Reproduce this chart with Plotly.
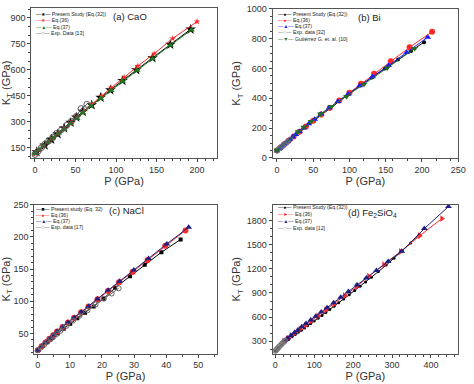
import plotly.graph_objects as go

# ---------------- (a) CaO ----------------
a_ps_P = [2, 12, 20, 28, 36, 44, 51, 59, 70, 81, 93, 108, 125, 145, 167, 192]
a_ps_K = [125, 163, 196, 228, 262, 295, 325, 358, 396, 439, 483, 537, 599, 669, 746, 834]
a_36_P = [0, 5, 10, 16, 22, 29, 36, 44, 52, 60, 70, 82, 94, 110, 127, 147, 170, 200]
a_36_K = [115, 137, 158, 182, 205, 232, 260, 292, 325, 357, 400, 449, 496, 556, 622, 693, 781, 879]
a_37_P = [0, 5, 10, 16, 22, 29, 36, 44, 52, 59, 69, 81, 94, 108, 126, 145, 167, 193]
a_37_K = [115, 137, 158, 182, 205, 232, 258, 288, 318, 350, 390, 434, 480, 533, 597, 664, 742, 830]
a_ex_P = [0, 4, 8, 12, 17, 22, 27, 33, 39, 45, 51, 57, 64]
a_ex_K = [110, 130, 150, 168, 190, 210, 232, 255, 278, 302, 330, 375, 400]

# ---------------- (b) Bi ----------------
b_ps_P = [0, 5, 10, 16, 23, 31, 40, 50, 61, 73, 86, 100, 115, 131, 149, 167, 185, 203]
b_ps_K = [50, 70, 91, 115, 143, 174, 208, 246, 287, 332, 380, 432, 486, 540, 600, 660, 718, 777]
b_36_P = [0, 5, 10, 16, 23, 31, 40, 50, 61, 73, 86, 100, 116, 134, 157, 183, 214]
b_36_K = [50, 70, 91, 115, 143, 175, 210, 249, 291, 337, 386, 438, 498, 565, 648, 742, 847]
b_37_P = [0, 2, 4, 6, 8, 10, 12, 15, 18, 22, 26, 31, 37, 44, 52, 61, 72, 84, 98, 114, 132, 154, 179, 208]
b_37_K = [48, 57, 65, 73, 82, 91, 99, 112, 124, 141, 157, 177, 201, 229, 260, 294, 335, 378, 428, 484, 545, 620, 707, 810]
b_ex_P = [0, 3, 6, 9, 12, 15, 18]
b_ex_K = [50, 63, 75, 87, 99, 111, 123]
b_gu_P = [0, 29, 37, 47, 60, 75, 96, 120, 152, 190]
b_gu_K = [52, 175, 206, 245, 295, 345, 412, 494, 603, 735]

# ---------------- (c) NaCl ----------------
c_ps_P = [0, 1.5, 3, 4.6, 6.3, 8.1, 10.1, 12.3, 14.7, 17.4, 20.5, 24.1, 28.7, 33.3, 38.5, 44.5]
c_ps_K = [24, 30.5, 37, 43.5, 50.5, 57.5, 65, 73.5, 82, 92, 104, 121, 139, 156.5, 176, 196]
c_36_P = [0, 1.2, 2.4, 3.6, 4.8, 6, 7.7, 9.4, 11.3, 13.5, 15.8, 18.6, 21.9, 25.3, 29.5, 34.2, 39.7, 46]
c_36_K = [24, 30, 35.8, 41.6, 47.4, 53, 60, 67, 74.5, 83, 92, 103, 116, 129.5, 145.5, 164, 186, 210]
c_37_P = [0, 1.2, 2.4, 3.6, 4.8, 6, 7.7, 9.4, 11.3, 13.5, 15.8, 18.6, 21.9, 25.5, 29.9, 34.5, 40.2, 47]
c_37_K = [24, 30, 35.8, 41.6, 47.4, 53, 60, 67, 74.5, 83, 92, 103.5, 117, 131, 148.5, 166.5, 189, 215]
c_ex_P = [0, 1, 2, 3, 4, 5, 6, 7, 8, 9, 11, 13, 15.5, 18, 20.6, 23, 25.2]
c_ex_K = [24, 28, 32.5, 37, 41, 45.5, 49.5, 54, 58, 62, 70, 77.5, 86, 95, 104, 112, 120]

# ---------------- (d) Fe2SiO4 ----------------
d_ps_P = [0, 8, 17, 26, 34, 43, 51, 59, 67, 75, 83, 91, 100, 110, 120, 130, 140, 151, 163, 176,
          190, 204, 218, 232, 247, 265, 285, 305, 326, 348, 370]
d_ps_K = [180, 220, 258, 293, 323, 355, 383, 411, 438, 465, 492, 520, 551, 586, 621, 657, 694, 734, 778, 826,
          878, 930, 983, 1037, 1096, 1166, 1246, 1330, 1420, 1520, 1630]
d_36_P = [22, 31, 41, 52, 64, 78, 93, 110, 130, 151, 178, 209, 240, 279, 322, 371, 428]
d_36_K = [300, 333, 368, 407, 450, 500, 554, 615, 688, 764, 865, 978, 1107, 1252, 1416, 1610, 1824]
d_37_P = [25, 32, 40, 49, 58, 68, 79, 91, 104, 118, 133, 150, 168, 188, 210, 234, 260, 290, 325, 383, 445]
d_37_K = [312, 340, 372, 407, 441, 479, 520, 564, 612, 663, 718, 780, 846, 918, 998, 1085, 1180, 1290, 1418, 1700, 1973]
d_ex_P = [0, 2, 4, 6, 8, 10, 13, 16, 19, 22, 25]
d_ex_K = [178, 190, 201, 212, 223, 234, 249, 264, 279, 293, 306]

panels = [
    dict(key="a", title="(a) CaO", series=[
        ("Present Study (Eq.(32))", a_ps_P, a_ps_K, "#000000", "star", 8, "#000000"),
        ("Eq.(36)", a_36_P, a_36_K, "#ff2a2a", "star", 5, "#ff2a2a"),
        ("Eq.(37)", a_37_P, a_37_K, "#1f7a1f", "triangle-up", 6, "#1f7a1f"),
        ("Exp. Data [13]", a_ex_P, a_ex_K, "#555555", "circle-open", 6, "#555555"),
    ]),
    dict(key="b", title="(b) Bi", series=[
        ("Present Study (Eq.(32))", b_ps_P, b_ps_K, "#000000", "circle", 4, "#000000"),
        ("Eq.(36)", b_36_P, b_36_K, "#ff2a2a", "circle", 6, "#ff2a2a"),
        ("Eq.(37)", b_37_P, b_37_K, "#1a1aff", "triangle-up", 6, "#1a1aff"),
        ("Exp. data [32]", b_ex_P, b_ex_K, "#777777", "circle-open", 5, "#777777"),
        ("Gutiérrez G. et. al. [10]", b_gu_P, b_gu_K, "#1f6e1f", "triangle-down", 6, "#1f6e1f"),
    ]),
    dict(key="c", title="(c) NaCl", series=[
        ("Present study (Eq. 32)", c_ps_P, c_ps_K, "#000000", "square", 4, "#000000"),
        ("Eq.(36)", c_36_P, c_36_K, "#ff2a2a", "circle", 6, "#ff2a2a"),
        ("Eq.(37)", c_37_P, c_37_K, "#1f1f80", "triangle-up", 6, "#1f1f80"),
        ("Exp. data [17]", c_ex_P, c_ex_K, "#666666", "circle-open", 5, "#666666"),
    ]),
    dict(key="d", title="(d) Fe<sub>2</sub>SiO<sub>4</sub>", series=[
        ("Present Study (Eq.(32))", d_ps_P, d_ps_K, "#000000", "circle", 3, "#000000"),
        ("Eq.(36)", d_36_P, d_36_K, "#ff2a2a", "triangle-right", 6, "#ff2a2a"),
        ("Eq.(37)", d_37_P, d_37_K, "#1f1f80", "triangle-up", 6, "#1f1f80"),
        ("Exp. data [12]", d_ex_P, d_ex_K, "#777777", "circle-open", 5, "#777777"),
    ]),
]

legend_glyph = {"star": "★", "circle": "●", "square": "■", "triangle-up": "▲",
                "triangle-down": "▼", "triangle-right": "►", "circle-open": "○"}

W, H = 474, 384
# plot-area boxes in pixels: (left, right, top, bottom)
boxes = {"a": (29, 219, 3, 157), "b": (276, 466, 4, 157),
         "c": (32, 219, 205, 358), "d": (276, 466, 205, 358)}
xranges = {"a": [-4.5, 224.5], "b": [-6, 250], "c": [-1.1, 55.8], "d": [-7, 470]}
yranges = {"a": [90, 958], "b": [0, 1000], "c": [18.6, 250], "d": [146, 1997]}
xticks = {"a": [0, 50, 100, 150, 200], "b": [0, 50, 100, 150, 200, 250],
          "c": [0, 10, 20, 30, 40, 50], "d": [0, 100, 200, 300, 400]}
yticks = {"a": [150, 300, 450, 600, 750, 900], "b": [0, 200, 400, 600, 800, 1000],
          "c": [50, 100, 150, 200, 250], "d": [300, 600, 900, 1200, 1500, 1800]}
title_pos = {"a": (130, 12), "b": (375, 13), "c": (126, 211), "d": (378, 214)}
legend_pos = {"a": (32, 9, 6.6), "b": (279, 9, 6.4), "c": (32, 209, 6.3), "d": (279, 207, 7.3)}

fig = go.Figure()
layout = dict(width=W, height=H, margin=dict(l=0, r=0, t=0, b=0),
              paper_bgcolor="white", plot_bgcolor="white", showlegend=False,
              font=dict(family="Liberation Sans, Arial", color="#333333"))
annotations = []

for i, p in enumerate(panels):
    k = p["key"]
    n = "" if i == 0 else str(i + 1)
    l, r, t, b = boxes[k]
    xa = dict(domain=[l / W, r / W], range=xranges[k], anchor="y" + n,
              tickvals=xticks[k], ticks="outside", ticklen=3, tickwidth=1, tickcolor="#444",
              minor=dict(ticks="outside", ticklen=2, tickcolor="#444"),
              showline=True, linecolor="#555", linewidth=1, mirror=True, showgrid=False, zeroline=False,
              tickfont=dict(size=9, color="#333"),
              title=dict(text="P (GPa)", font=dict(size=11, color="#333"), standoff=2))
    ya = dict(domain=[1 - b / H, 1 - t / H], range=yranges[k], anchor="x" + n,
              tickvals=yticks[k], ticks="outside", ticklen=3, tickwidth=1, tickcolor="#444",
              minor=dict(ticks="outside", ticklen=2, tickcolor="#444"),
              showline=True, linecolor="#555", linewidth=1, mirror=True, showgrid=False, zeroline=False,
              tickfont=dict(size=9, color="#333"),
              title=dict(text="K<sub>T</sub> (GPa)", font=dict(size=11, color="#333"), standoff=3))
    layout["xaxis" + n] = xa
    layout["yaxis" + n] = ya
    for (name, P, K, col, sym, size, lcol) in p["series"]:
        fig.add_trace(go.Scatter(x=P, y=K, mode="lines+markers", name=name,
                                 xaxis="x" + n, yaxis="y" + n,
                                 line=dict(color=lcol, width=1),
                                 marker=dict(symbol=sym, size=size, color=col,
                                             line=dict(width=1 if "open" in sym else 0, color=col))))
    tx, ty = title_pos[k]
    annotations.append(dict(text=p["title"], x=tx / W, y=1 - ty / H, xref="paper", yref="paper",
                            showarrow=False, font=dict(size=9.5, color="#222"),
                            xanchor="center", yanchor="middle"))
    lx, ly, dy = legend_pos[k]
    for j, (name, P, K, col, sym, size, lcol) in enumerate(p["series"]):
        g = legend_glyph[sym]
        txt = f"<span style='color:{lcol}'>—{g}—</span> {name}"
        annotations.append(dict(text=txt, x=lx / W, y=1 - (ly + j * dy) / H, xref="paper", yref="paper",
                                showarrow=False, font=dict(size=5.2, color="#222"),
                                xanchor="left", yanchor="middle"))

layout["annotations"] = annotations
fig.update_layout(**layout)
fig.write_html("out.html", config={"displayModeBar": False},
               post_script="document.body.style.margin='0';document.body.style.overflow='hidden';")
